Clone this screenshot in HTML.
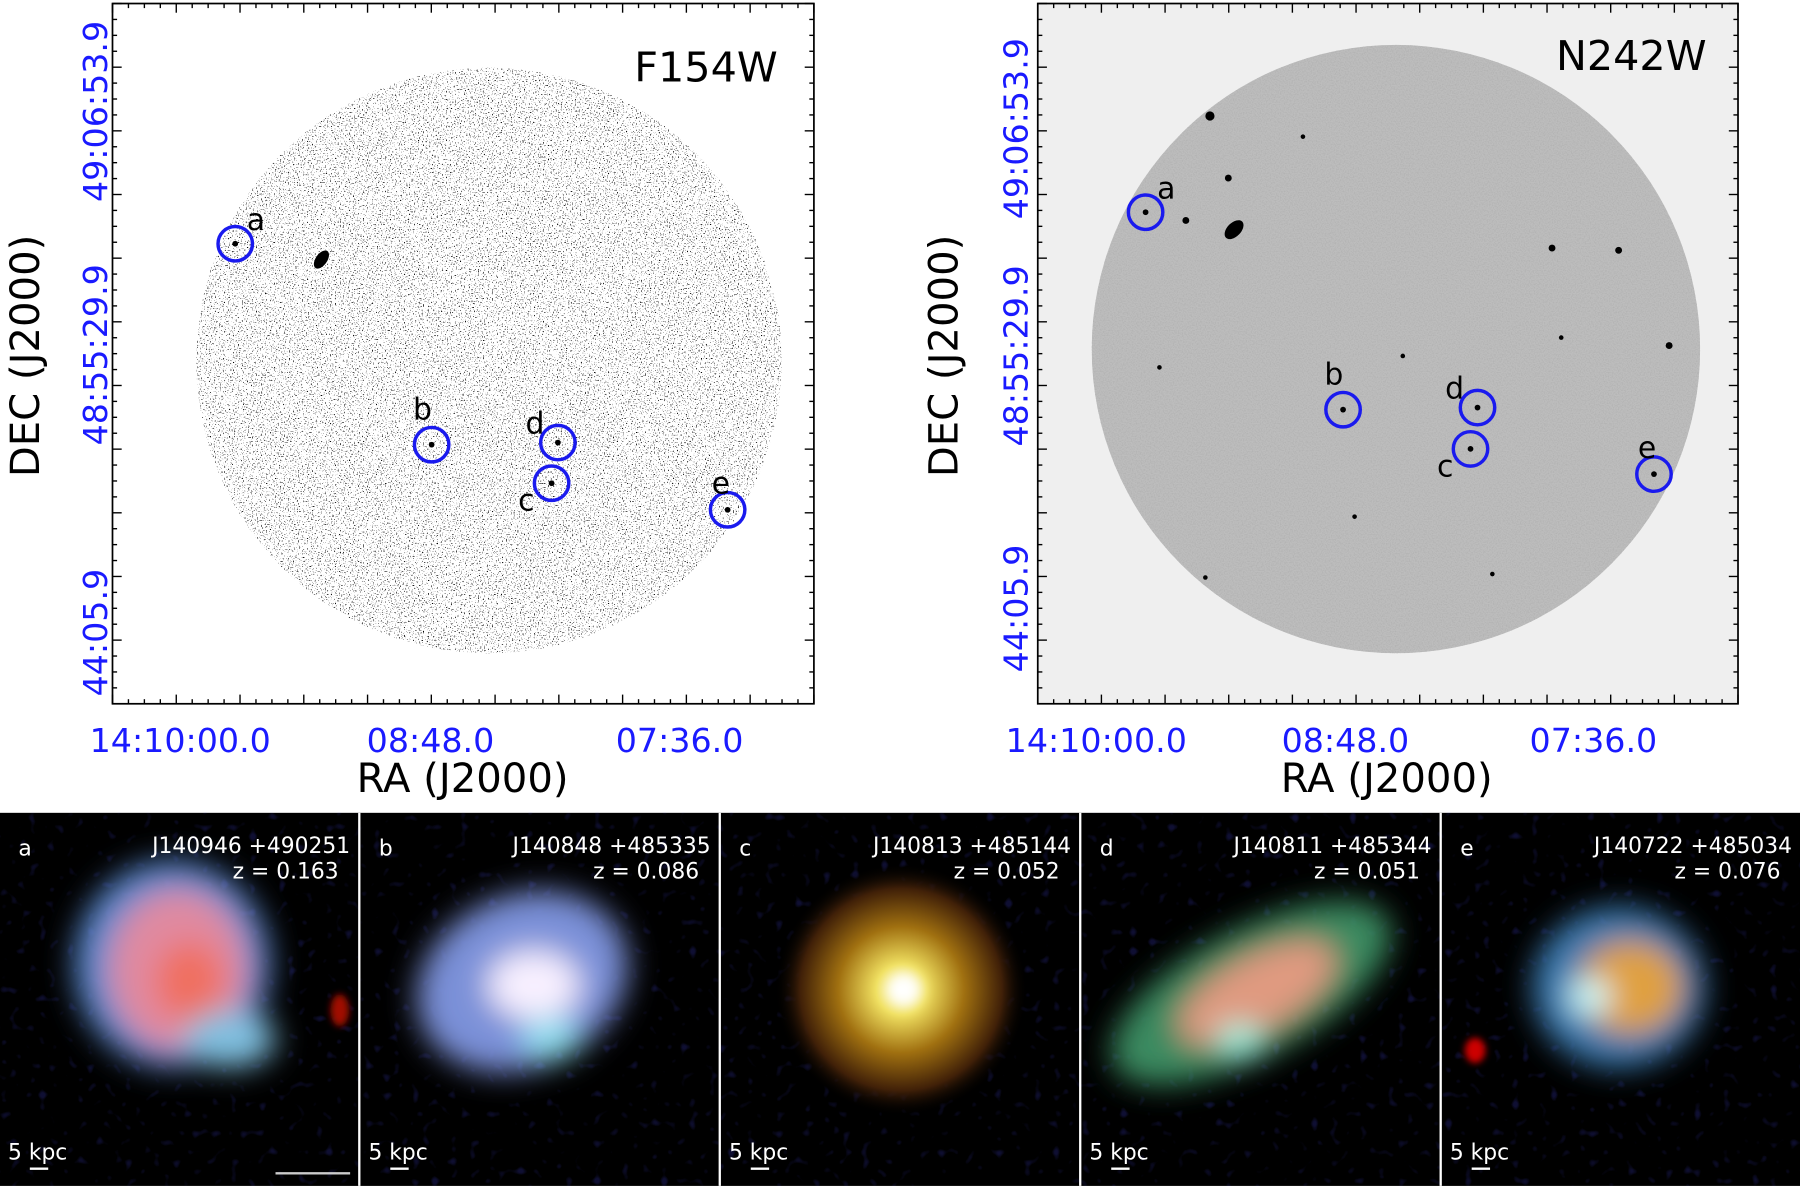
<!DOCTYPE html>
<html><head><meta charset="utf-8"><style>
html,body{margin:0;padding:0;background:#fff}
svg{display:block}
text{font-family:"DejaVu Sans","Liberation Sans",sans-serif}
</style></head><body>
<svg id="fig" width="1800" height="1186" viewBox="0 0 1568 1033" xmlns="http://www.w3.org/2000/svg">
<defs>
<filter id="speck" x="0" y="0" width="100%" height="100%">
<feTurbulence type="fractalNoise" baseFrequency="0.9" numOctaves="1" seed="3"/>
<feColorMatrix type="matrix" values="0 0 0 0 0  0 0 0 0 0  0 0 0 0 0  9 0 0 0 -5.5"/>
</filter>
<filter id="speck2" x="0" y="0" width="100%" height="100%">
<feTurbulence type="fractalNoise" baseFrequency="0.9" numOctaves="1" seed="7"/>
<feColorMatrix type="matrix" values="0 0 0 0 0.45  0 0 0 0 0.45  0 0 0 0 0.45  3 0 0 0 -1.2"/>
</filter>
<filter id="bnoise" x="0" y="0" width="100%" height="100%">
<feTurbulence type="fractalNoise" baseFrequency="0.12" numOctaves="1" seed="5"/>
<feColorMatrix type="matrix" values="0 0 0 0 0.05  0 0 0 0 0.05  0 0 0 0 0.6  0 0 6 0 -3.8"/>
</filter>
<filter id="blur6" x="-100%" y="-100%" width="300%" height="300%"><feGaussianBlur stdDeviation="6"/></filter>
<filter id="blur10" x="-50%" y="-50%" width="200%" height="200%"><feGaussianBlur stdDeviation="13"/></filter>
<filter id="blur3" x="-100%" y="-100%" width="300%" height="300%"><feGaussianBlur stdDeviation="3"/></filter>
<clipPath id="clipL"><circle cx="426" cy="314" r="255"/></clipPath>
<clipPath id="clipR"><circle cx="1216" cy="304" r="265"/></clipPath>
<radialGradient id="gc" cx="50%" cy="50%" r="50%">
<stop offset="0" stop-color="#fffff0"/><stop offset="0.2" stop-color="#f0e060"/><stop offset="0.5" stop-color="#a07010"/><stop offset="0.8" stop-color="#402008"/><stop offset="1" stop-color="#000" stop-opacity="0"/>
</radialGradient>
</defs>

<g>
<rect x="98" y="3" width="611" height="610" fill="#fff" stroke="#000" stroke-width="1.5"/>
<g clip-path="url(#clipL)"><rect x="171" y="59" width="510" height="510" fill="#fff"/><rect x="171" y="59" width="510" height="510" filter="url(#speck)"/></g>
<ellipse cx="280" cy="226" rx="5" ry="9" transform="rotate(35 280 226)" fill="#000"/>
<text x="615" y="71" font-size="36" text-anchor="middle">F154W</text>
<g id="ticksL"></g>
</g>
<g>
<rect x="904" y="3" width="610" height="610" fill="#efefef" stroke="#000" stroke-width="1.5"/>
<g clip-path="url(#clipR)"><rect x="951" y="39" width="530" height="530" fill="#bdbdbd"/><rect x="951" y="39" width="530" height="530" filter="url(#speck2)"/></g>
<g id="starsR" fill="#000"></g>
<ellipse cx="1075" cy="200" rx="6" ry="10" transform="rotate(45 1075 200)" fill="#000"/>
<text x="1421" y="61" font-size="36" text-anchor="middle">N242W</text>
<g id="ticksR"></g>
</g>

<g font-size="29" fill="#1a1aff" font-family="Liberation Sans, sans-serif">
<text transform="translate(93,97) rotate(-90)" text-anchor="middle">49:06:53.9</text>
<text transform="translate(93,309) rotate(-90)" text-anchor="middle">48:55:29.9</text>
<text transform="translate(93,551) rotate(-90)" text-anchor="middle">44:05.9</text>
<text transform="translate(895,112) rotate(-90)" text-anchor="middle">49:06:53.9</text>
<text transform="translate(895,310) rotate(-90)" text-anchor="middle">48:55:29.9</text>
<text transform="translate(895,530) rotate(-90)" text-anchor="middle">44:05.9</text>
</g>
<g font-size="29" fill="#1a1aff" text-anchor="middle">
<text x="157" y="655">14:10:00.0</text>
<text x="375" y="655">08:48.0</text>
<text x="592" y="655">07:36.0</text>
<text x="955" y="655">14:10:00.0</text>
<text x="1172" y="655">08:48.0</text>
<text x="1388" y="655">07:36.0</text>
</g>
<g font-size="35" fill="#000" text-anchor="middle">
<text x="403" y="690">RA (J2000)</text>
<text x="1208" y="690">RA (J2000)</text>
<text transform="translate(34,310) rotate(-90)">DEC (J2000)</text>
<text transform="translate(834,310) rotate(-90)">DEC (J2000)</text>
</g>
<g id="markers"></g>

<g>
<rect x="0" y="706" width="1568" height="327" fill="#fff"/>
<rect x="0" y="708" width="1568" height="325" fill="#000"/>
<rect x="0" y="708" width="1568" height="325" filter="url(#bnoise)" opacity="0.25"/>
<g>
<g filter="url(#blur10)"><ellipse cx="150" cy="840" rx="85" ry="90" fill="#5a8ad0"/><ellipse cx="155" cy="845" rx="60" ry="70" fill="#e08aa0"/><ellipse cx="165" cy="855" rx="30" ry="35" fill="#f07060"/><ellipse cx="200" cy="905" rx="40" ry="25" fill="#80c0e0"/></g>
<ellipse cx="296" cy="880" rx="8" ry="14" fill="#a01000" filter="url(#blur3)"/>
<line x1="240" y1="1022" x2="305" y2="1022" stroke="#ccc" stroke-width="2"/>
</g>
<g>
<g filter="url(#blur10)"><ellipse cx="455" cy="855" rx="95" ry="75" transform="rotate(-25 455 855)" fill="#7a90d8"/><ellipse cx="465" cy="858" rx="40" ry="30" fill="#f8f0ff"/><ellipse cx="480" cy="905" rx="25" ry="18" fill="#90e0f0"/></g>
</g>
<g>
<circle cx="785" cy="862" r="110" fill="url(#gc)"/>
<circle cx="788" cy="862" r="14" fill="#fff" filter="url(#blur6)"/>
</g>
<g>
<g filter="url(#blur10)"><ellipse cx="1090" cy="865" rx="135" ry="55" transform="rotate(-28 1090 865)" fill="#3a8a60"/><ellipse cx="1095" cy="865" rx="75" ry="32" transform="rotate(-28 1095 865)" fill="#e09a80"/><ellipse cx="1080" cy="905" rx="20" ry="14" fill="#a0f0e0"/></g>
</g>
<g>
<g filter="url(#blur10)"><ellipse cx="1410" cy="860" rx="75" ry="70" fill="#3a7ab0"/><ellipse cx="1420" cy="860" rx="45" ry="40" fill="#e0a040"/><ellipse cx="1385" cy="868" rx="18" ry="16" fill="#d0ffff"/></g>
<ellipse cx="1285" cy="915" rx="9" ry="11" fill="#c00" filter="url(#blur3)"/>
</g>
<line x1="313" y1="708" x2="313" y2="1033" stroke="#fff" stroke-width="2"/>
<line x1="627" y1="708" x2="627" y2="1033" stroke="#fff" stroke-width="2"/>
<line x1="941" y1="708" x2="941" y2="1033" stroke="#fff" stroke-width="2"/>
<line x1="1255" y1="708" x2="1255" y2="1033" stroke="#fff" stroke-width="2"/>
<g id="cutlabels" fill="#fff" font-size="19"></g>
</g>
</svg>
<script>
// Source positions as fractions of each panel's frame (0..1)
const sourceIds = ['a','b','c','d','e'];
const fracXLeft = [0.175, 0.455, 0.626, 0.635, 0.877];
const fracYLeft = [0.343, 0.630, 0.685, 0.627, 0.723];
const fracXRight = [0.154, 0.436, 0.618, 0.628, 0.880];
const fracYRight = [0.298, 0.580, 0.636, 0.577, 0.672];
const names = ['J140946 +490251','J140848 +485335','J140813 +485144','J140811 +485344','J140722 +485034'];
const redshifts = ['0.163','0.086','0.052','0.051','0.076'];
const labelDx = [[18,-20],[-8,-30],[-22,16],[-20,-16],[-6,-22]];

const NS='http://www.w3.org/2000/svg';
function mk(tag,attrs,parent,text){const e=document.createElementNS(NS,tag);for(const k in attrs)e.setAttribute(k,attrs[k]);if(text!==undefined)e.textContent=text;parent.appendChild(e);return e;}
const L={x0:98,y0:3,w:611,h:610}, R={x0:904,y0:3,w:610,h:610};
const px=(p,f)=>p.x0+f*p.w, py=(p,f)=>p.y0+f*p.h;
const mg=document.getElementById('markers');
[[L,fracXLeft,fracYLeft,'left'],[R,fracXRight,fracYRight,'right']].forEach(([P,fx,fy,side])=>{
  sourceIds.forEach((id,i)=>{
    const cx=px(P,fx[i]), cy=py(P,fy[i]);
    const c=mk('circle',{cx:cx,cy:cy,r:15,fill:'none',stroke:'#1a1aee','stroke-width':3},mg);
    
    
    mk('circle',{cx:cx,cy:cy,r:2.5,fill:'#000'},mg);
    const t=mk('text',{x:cx+labelDx[i][0],y:cy+labelDx[i][1]+8,'font-size':26,'text-anchor':'middle',fill:'#000'},mg,id);
    
    
  });
});
function ticks(P,g){
  for(let i=0;i<=44;i++){const x=P.x0+i*P.w/44;const len=(i%4==0)?8:4;
    mk('line',{x1:x,y1:P.y0+P.h,x2:x,y2:P.y0+P.h-len,stroke:'#000','stroke-width':1.2},g);
    mk('line',{x1:x,y1:P.y0,x2:x,y2:P.y0+len,stroke:'#000','stroke-width':1.2},g);}
  for(let i=0;i<=44;i++){const y=P.y0+i*P.h/44;const len=(i%4==0)?8:4;
    mk('line',{x1:P.x0,y1:y,x2:P.x0+len,y2:y,stroke:'#000','stroke-width':1.2},g);
    mk('line',{x1:P.x0+P.w,y1:y,x2:P.x0+P.w-len,y2:y,stroke:'#000','stroke-width':1.2},g);}
}
ticks(L,document.getElementById('ticksL'));ticks(R,document.getElementById('ticksR'));
const sg=document.getElementById('starsR');
[[1054,101,4],[1070,155,3],[1352,216,3],[1410,218,3],[1454,301,3],[1033,192,3],[1360,294,2],[1135,119,2],[1222,310,2],[1050,503,2],[1300,500,2],[1180,450,2],[1010,320,2]].forEach(s=>mk('circle',{cx:s[0],cy:s[1],r:s[2]},sg));
const cl=document.getElementById('cutlabels');
sourceIds.forEach((id,i)=>{
  const x0=i*314;
  const a=mk('text',{x:x0+16,y:745},cl,id);  
  const n=mk('text',{x:x0+305,y:743,'text-anchor':'end'},cl,names[i]);  
  const z=mk('text',{x:x0+295,y:765,'text-anchor':'end'},cl,'z = '+redshifts[i]);  
  const k=mk('text',{x:x0+7,y:1010},cl,'5 kpc');  
  mk('line',{x1:x0+26,y1:1018,x2:x0+42,y2:1018,stroke:'#fff','stroke-width':2},cl);
});
</script>
</body></html>
